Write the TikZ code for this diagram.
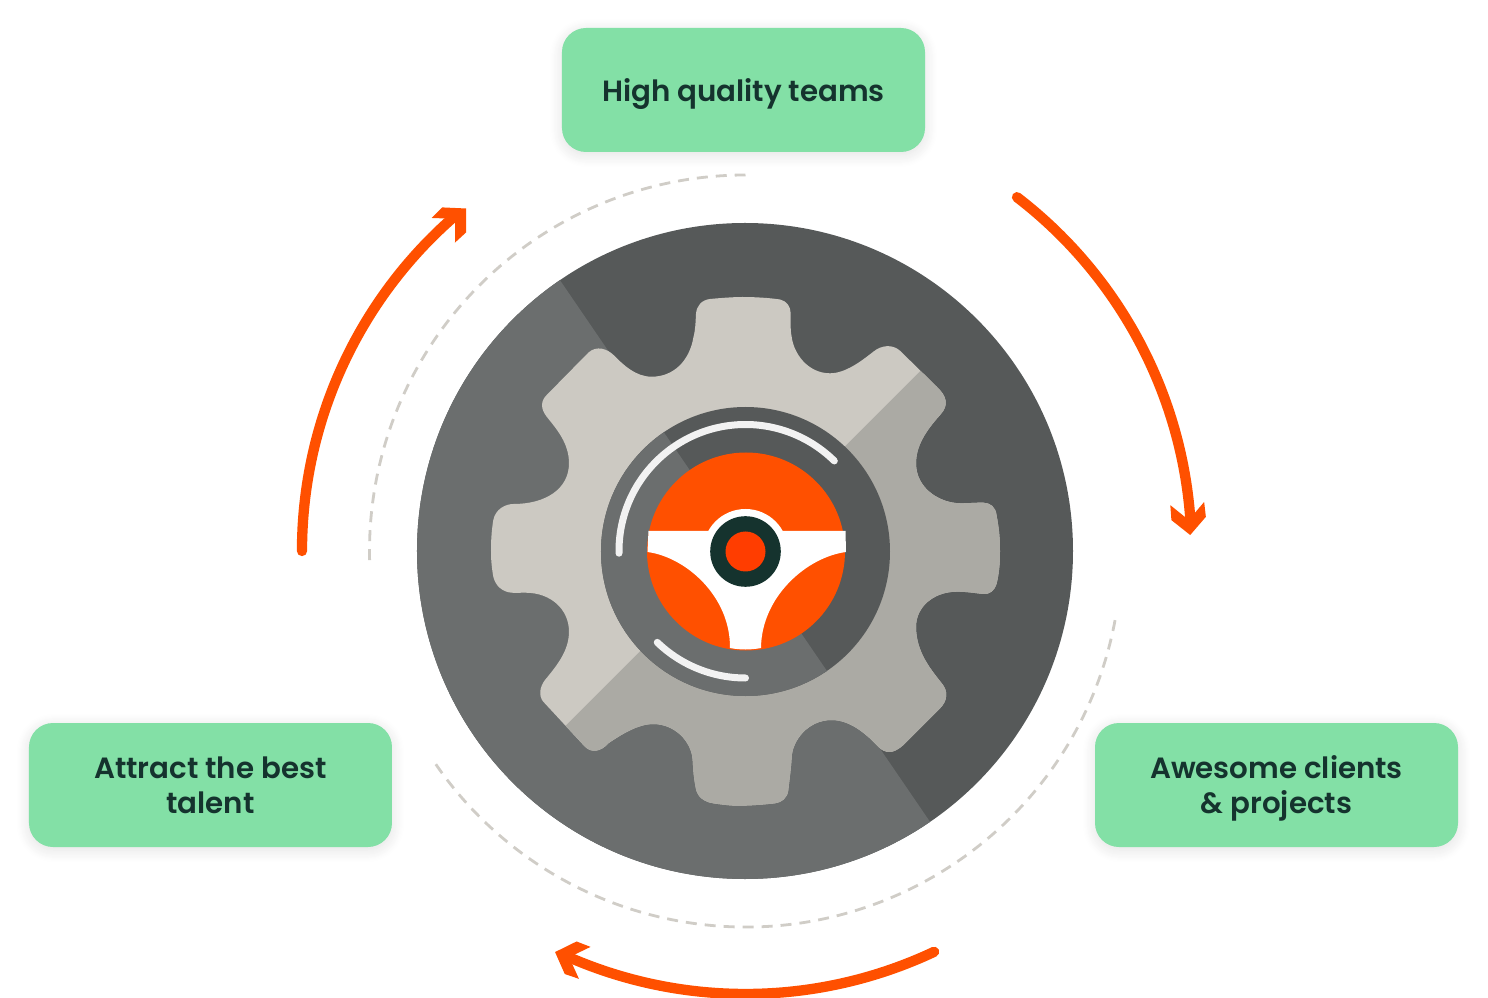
\documentclass[tikz,border=0pt]{standalone}
\usepackage{fontspec}
\setmainfont{Poppins}[BoldFont={Poppins SemiBold}]
\usetikzlibrary{shadows.blur}
\definecolor{mint}{HTML}{83E0A6}
\definecolor{ink}{HTML}{15332E}
\definecolor{flame}{HTML}{FF5000}
\definecolor{hubred}{HTML}{FF3D00}
\definecolor{slate}{HTML}{565959}
\definecolor{slatelight}{HTML}{6B6E6E}
\definecolor{gearlight}{HTML}{CCC9C2}
\definecolor{geardark}{HTML}{ABAAA4}
\definecolor{dashgray}{HTML}{D0CDC7}
\definecolor{glint}{HTML}{F2F2F2}
\tikzset{
  goalbox/.style={fill=mint, rounded corners=24pt, minimum width=363pt, minimum height=124pt, inner sep=0pt,
    blur shadow={shadow xshift=0pt, shadow yshift=-3pt, shadow blur radius=12pt, shadow blur steps=12, shadow opacity=12}},
  goaltext/.style={align=center, text=ink, inner sep=0pt, font=\fontsize{29.3}{35}\selectfont\bfseries},
  flowline/.style={draw=flame, line width=10.3pt, line cap=round},
  guideline/.style={draw=dashgray, line width=2.8pt, dash pattern=on 11pt off 8pt},
  chevron/.pic={\fill[flame] (0,0) -- (-16.6,17.3) -- (-31.6,17) -- (-15,0) -- (-31.6,-17) -- (-16.6,-17.3) -- cycle;}
}
% gear outline, clockwise from the top tooth
\newcommand{\gearoutline}{(-3,254) .. controls (10,254) and (25,253) .. (34.5,251.5)
  .. controls (41,250) and (45,245) .. (45.2,237.7)
  .. controls (45.4,228) and (44.5,222) .. (46.2,214.3)
  .. controls (48,198) and (62,177.7) .. (84.5,177.7)
  .. controls (100,177.7) and (116,190) .. (127.8,199.3)
  .. controls (136,206) and (147,207) .. (154.5,200.3)
  -- (191.2,164.3)
  .. controls (201,155) and (204,146) .. (194.5,136)
  .. controls (184,124) and (170.5,108) .. (170.5,87.7)
  .. controls (170.5,62) and (195,47.7) .. (215,47.7)
  .. controls (225,47.7) and (231,48.5) .. (237.8,48.3)
  .. controls (245,48) and (250,44) .. (251,36)
  .. controls (253,25) and (254.5,15) .. (254.5,0)
  .. controls (254.5,-10) and (254,-20) .. (251.2,-32.3)
  .. controls (249,-40) and (244,-43.5) .. (237.8,-43)
  .. controls (229,-42) and (222,-40.7) .. (211.2,-40.7)
  .. controls (188,-40.7) and (170.5,-56) .. (170.5,-75.7)
  .. controls (170.5,-100) and (184,-117) .. (196.2,-132.3)
  .. controls (203,-140) and (202,-150) .. (194.5,-157.3)
  -- (157.8,-194)
  .. controls (148,-203) and (140,-203) .. (132.8,-195.7)
  .. controls (120,-182) and (104,-169) .. (86.2,-169)
  .. controls (62,-169) and (47,-190) .. (46.2,-205.7)
  .. controls (45.5,-218) and (44,-228) .. (42.8,-239)
  .. controls (42,-247) and (36,-251.5) .. (29.5,-252.3)
  .. controls (15,-254) and (0,-254.7) .. (-7,-254.7)
  .. controls (-15,-254.7) and (-24,-253.5) .. (-32.2,-252.3)
  .. controls (-41,-251) and (-48,-246) .. (-49.5,-238)
  .. controls (-51,-230) and (-52,-225) .. (-52.8,-209)
  .. controls (-54,-190) and (-71,-173) .. (-92.2,-173)
  .. controls (-108,-173) and (-125,-184) .. (-137.2,-192.3)
  .. controls (-145,-201) and (-154,-202) .. (-160.5,-195.7)
  -- (-202.2,-150.7)
  .. controls (-207,-145) and (-206,-136) .. (-200.5,-129)
  .. controls (-189,-115) and (-176.5,-100) .. (-176.5,-80.7)
  .. controls (-176.5,-58) and (-195,-41.7) .. (-220,-41.7)
  .. controls (-226,-41.7) and (-231,-42) .. (-233.8,-41.7)
  .. controls (-243,-41) and (-250,-35) .. (-252.2,-25.7)
  .. controls (-254,-15) and (-254.5,-8) .. (-254.5,0)
  .. controls (-254.5,10) and (-254,20) .. (-252.2,31)
  .. controls (-250,42) and (-240,47) .. (-232,47)
  .. controls (-200,47) and (-176.5,62) .. (-176.5,87.7)
  .. controls (-176.5,108) and (-189,122) .. (-198.8,134.3)
  .. controls (-205,142) and (-205,150) .. (-198.8,156)
  -- (-157.2,198.3)
  .. controls (-149,206) and (-138,202) .. (-132,196)
  .. controls (-122,186) and (-110,174.3) .. (-93.8,174.3)
  .. controls (-72,174.3) and (-56,190) .. (-52,214)
  .. controls (-50,222) and (-50,228) .. (-49.5,237)
  .. controls (-49,245) and (-44,251) .. (-35.5,252)
  .. controls (-25,253) and (-12,254) .. (-3,254) -- cycle}
\begin{document}
\begin{tikzpicture}[x=1pt, y=1pt]
\useasboundingbox (-745.5,-447) rectangle (742.5,551);
% boxes
\node[goalbox] (teams) at (-2,461) {};
\node[goalbox] (clients) at (531,-234) {};
\node[goalbox] (talent) at (-535,-234) {};
\node[goaltext] (teamstext) at ([yshift=-4.5pt]teams.center) {High quality teams};
\node[goaltext] (clientstext) at ([yshift=-3pt]clients.center) {Awesome clients\\\& projects};
\node[goaltext] (talenttext) at (talent.center) {Attract the best\\talent};
% dashed guide circle
\coordinate (guideA) at (181.4:376);
\coordinate (guideB) at (-10.6:376);
\draw[guideline] (guideA) arc[start angle=181.4, end angle=90, radius=376];
\draw[guideline] (guideB) arc[start angle=-10.6, end angle=-146, radius=376];
% arrows
\coordinate (rightstart) at (52.5:446);
\coordinate (righttip) at (2.06:445);
\coordinate (bottomstart) at (-64.8:443);
\coordinate (bottomtip) at (244.6:444);
\coordinate (leftstart) at (180:443.5);
\coordinate (lefttip) at (129.2:442);
\draw[flowline] (rightstart) arc[start angle=52.5, end angle=3.2, radius=446];
\draw[flowline] (bottomstart) arc[start angle=295.2, end angle=246.7, radius=443];
\draw[flowline] (leftstart) arc[start angle=180, end angle=131, radius=443.5];
\pic[rotate=-84.6] at (righttip) {chevron};
\pic[rotate=160] at (bottomtip) {chevron};
\pic[rotate=43.6] at (lefttip) {chevron};
% big disc
\fill[slate] (-0.5,0) circle (328);
\begin{scope}
\clip (-0.5,0) circle (328);
\fill[slatelight] (-241,352) -- (240,-352) -- (-400,-352) -- (-400,352) -- cycle;
\end{scope}
% gear
\fill[gearlight] \gearoutline;
\begin{scope}
\clip (-300,-295) -- (300,305) -- (300,-300) -- (-300,-300) -- cycle;
\fill[geardark] \gearoutline;
\end{scope}
% ring
\fill[slate] (0,-0.5) circle (144.5);
\begin{scope}
\clip (0,-0.5) circle (144.5);
\fill[slatelight] (-241,352) -- (240,-352) -- (-400,-352) -- (-400,352) -- cycle;
\end{scope}
\draw[draw=glint, line width=7pt, line cap=round] (181:126.5) arc[start angle=181, end angle=45.4, radius=126.5];
\draw[draw=glint, line width=7pt, line cap=round] (226:127) arc[start angle=226, end angle=270, radius=127];
% wheel
\fill[flame] (0.5,-0.5) circle (99);
\fill[white] (-97,20) -- (100,20) -- (100.5,-1)
  .. controls (62,-6) and (16,-45) .. (15.5,-97)
  .. controls (5,-99) and (-5,-99) .. (-15.5,-97)
  .. controls (-15,-45) and (-60,-6) .. (-98,-1) -- cycle;
\fill[white] (0,-0.5) circle (42.5);
\fill[ink] (0,-0.5) circle (35.3);
\fill[hubred] (0,-0.5) circle (20);
\end{tikzpicture}
\end{document}
